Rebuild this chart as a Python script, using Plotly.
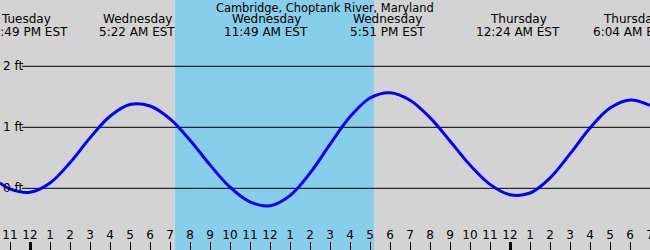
import plotly.graph_objects as go

# Time in hours from midnight (Wednesday), tide height in ft
hours = [-1.5, -1, 0, 1, 2, 3, 4, 5, 6, 7, 8, 9, 10, 11, 12, 13, 14,
         15, 16, 17, 18, 19, 20, 21, 22, 23, 24, 25, 26, 27, 28, 29, 30, 31]
heights = [0.09, -0.01, -0.066, 0.087, 0.419, 0.827, 1.182, 1.374, 1.350, 1.138,
           0.789, 0.384, 0.018, -0.224, -0.286, -0.119, 0.248, 0.721, 1.172, 1.481,
           1.568, 1.445, 1.159, 0.776, 0.381, 0.065, -0.104, -0.077, 0.169, 0.564, 0.989,
           1.316, 1.449, 1.36]

event_hours = [-0.18, 5.37, 11.82, 17.85, 24.4, 30.07]
event_days = ["Tuesday", "Wednesday", "Wednesday", "Wednesday", "Thursday", "Thursday"]
event_times = ["11:49 PM EST", "5:22 AM EST", "11:49 AM EST", "5:51 PM EST", "12:24 AM EST", "6:04 AM EST"]

tick_hours = list(range(-1, 32))
tick_labels = ["11", "12", "1", "2", "3", "4", "5", "6", "7", "8", "9", "10", "11",
               "12", "1", "2", "3", "4", "5", "6", "7", "8", "9", "10", "11",
               "12", "1", "2", "3", "4", "5", "6", "7"]
midnight_hours = [0, 24]

y_ticks = [0, 1, 2]
y_labels = ["0 ft", "1 ft", "2 ft"]

sunrise, sunset = 7.25, 17.2
title = "Cambridge, Choptank River, Maryland"

x_range = [-1.5, 31]
y_range = [-1.011, 3.087]
font = dict(family="DejaVu Sans", size=12, color="black")
title_font = dict(family="DejaVu Sans", size=11.4, color="black")

fig = go.Figure()
fig.add_trace(go.Scatter(x=hours, y=heights, mode="lines", line=dict(color="#0000ff", width=3, shape="spline"),
                         hoverinfo="skip", showlegend=False))
fig.add_trace(go.Scatter(x=hours, y=heights, mode="lines", xaxis="x2", opacity=0, hoverinfo="skip", showlegend=False))
fig.add_trace(go.Scatter(x=hours, y=heights, mode="lines", xaxis="x3", opacity=0, hoverinfo="skip", showlegend=False))

shapes = [dict(type="rect", xref="x", yref="paper", x0=sunrise, x1=sunset, y0=0, y1=1,
               fillcolor="#87ceeb", line=dict(width=0), layer="below")]
for v in y_ticks:
    shapes.append(dict(type="line", xref="paper", yref="y", x0=22 / 650, x1=1, y0=v, y1=v,
                       line=dict(color="black", width=1), layer="below"))

annotations = [dict(text=title, xref="paper", yref="paper", x=0.5, y=1 - 7.5 / 250, showarrow=False,
                    xanchor="center", yanchor="middle", font=title_font)]
for h, d, t in zip(event_hours, event_days, event_times):
    annotations.append(dict(text=d, xref="x", yref="paper", x=h, y=1 - 19.5 / 250, showarrow=False,
                            xanchor="center", yanchor="middle", font=font))
    annotations.append(dict(text=t, xref="x", yref="paper", x=h, y=1 - 32 / 250, showarrow=False,
                            xanchor="center", yanchor="middle", font=font))
for v, lab in zip(y_ticks, y_labels):
    annotations.append(dict(text=lab, xref="paper", yref="y", x=0, y=v, xshift=1, showarrow=False,
                            xanchor="left", yanchor="middle", font=font))

fig.update_layout(
    width=650, height=250, margin=dict(l=0, r=0, t=0, b=0, autoexpand=False),
    paper_bgcolor="#d3d3d3", plot_bgcolor="#d3d3d3",
    shapes=shapes, annotations=annotations, font=font, showlegend=False,
    xaxis=dict(range=x_range, tickvals=tick_hours, showticklabels=False, ticks="inside", ticklen=8,
               tickwidth=1, tickcolor="black", showgrid=False, zeroline=False, showline=False,
               automargin=False),
    xaxis2=dict(range=x_range, overlaying="x", anchor="free", position=0.096, side="bottom",
                tickvals=tick_hours, ticktext=tick_labels, ticks="", showgrid=False, zeroline=False,
                showline=False, tickfont=font, ticklabeloverflow="allow", automargin=False),
    xaxis3=dict(range=x_range, overlaying="x", anchor="y", side="bottom", tickvals=midnight_hours,
                showticklabels=False, ticks="inside", ticklen=8, tickwidth=3, tickcolor="black",
                showgrid=False, zeroline=False, showline=False, automargin=False),
    yaxis=dict(range=y_range, showticklabels=False, ticks="", showgrid=False, zeroline=False,
               showline=False, automargin=False),
)

fig.write_html("out.html")
